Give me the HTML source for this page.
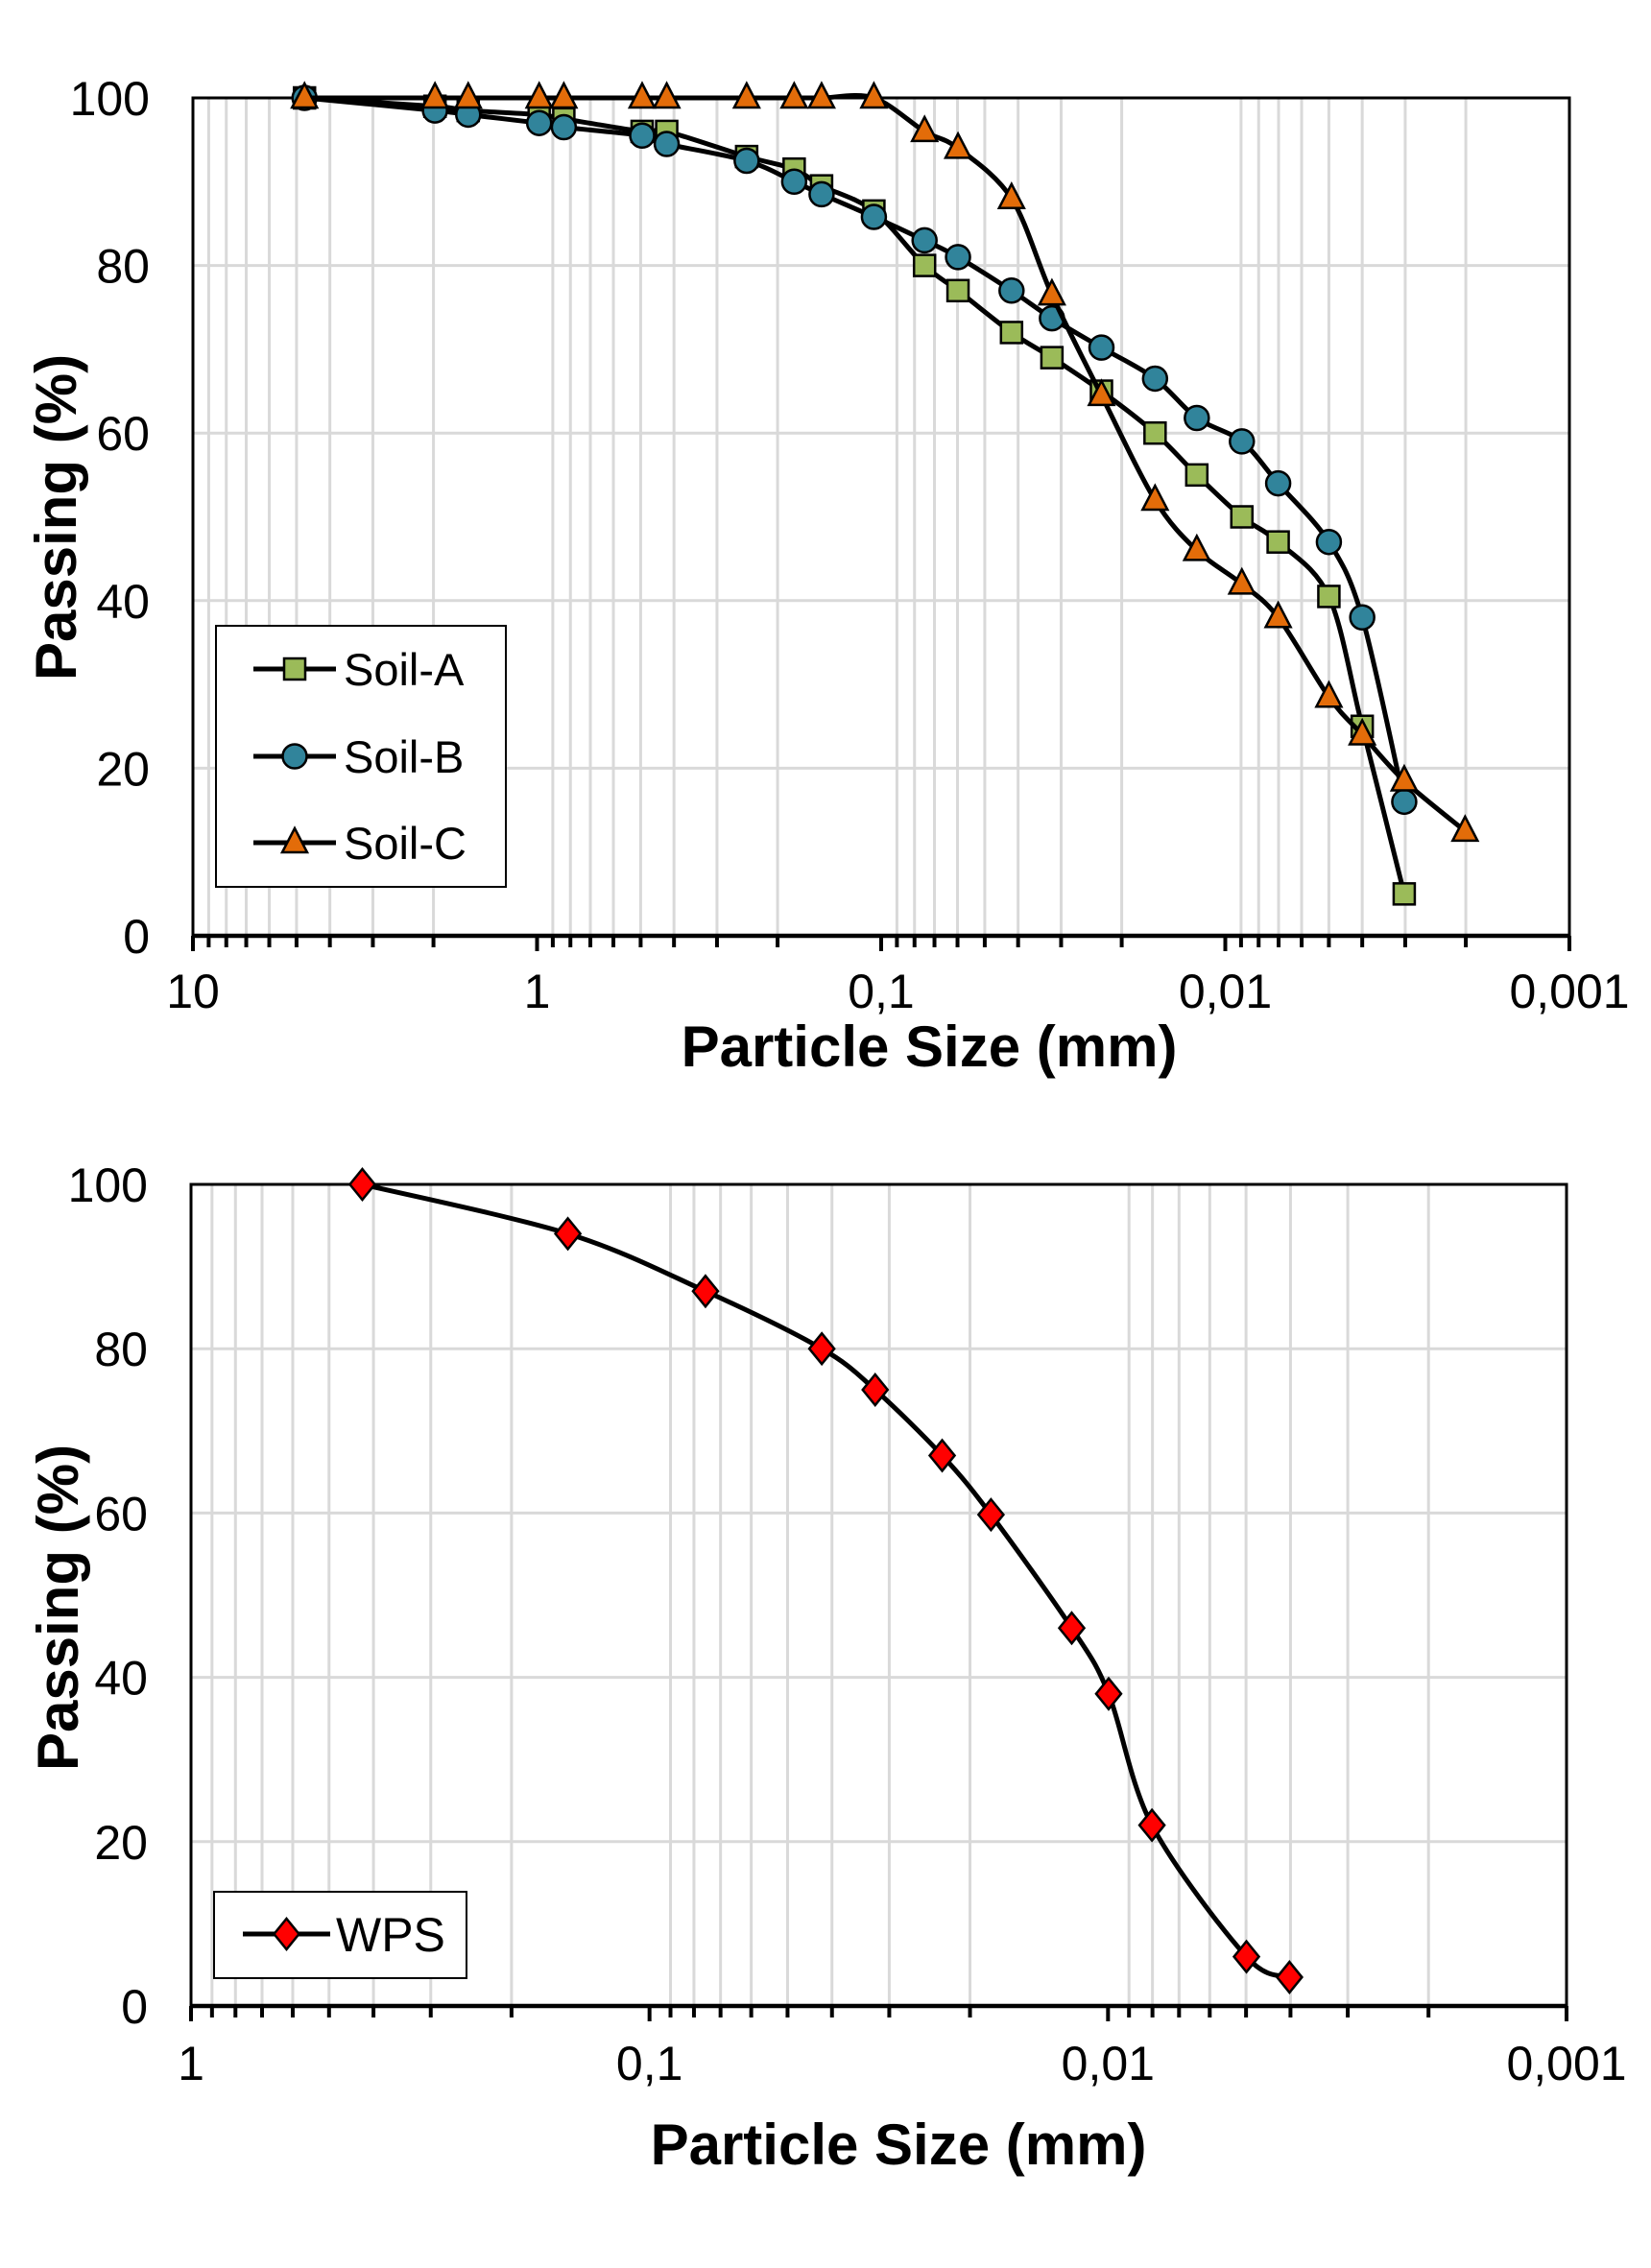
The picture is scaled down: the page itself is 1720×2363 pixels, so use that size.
<!DOCTYPE html>
<html><head><meta charset="utf-8"><style>
html,body{margin:0;padding:0;background:#fff;}
svg{display:block;font-family:"Liberation Sans",sans-serif;}
</style></head><body>
<svg id="chart" width="1720" height="2363" viewBox="0 0 1720 2363" xmlns="http://www.w3.org/2000/svg"></svg>
<script>
// Top chart data (diameters in mm, passing in %)
const sizesAB = [4.74,1.98,1.585,0.986,0.836,0.495,0.42,0.246,0.179,0.149,0.105,0.0748,0.0598,0.0418,0.0319,0.0229,0.016,0.0121,0.00895,0.00702,0.0050,0.0040,0.00302];
const soilA = [100,99,98.5,98,97.5,96,96,93,91.5,89.5,86.5,80,77,72,69,65,60,55,50,47,40.5,25,5];
const soilB = [100,98.5,98,97,96.5,95.5,94.5,92.5,90,88.5,85.8,83,81,77,73.7,70.2,66.5,61.8,59,54,47,38,16];
const sizesC = [4.74,1.98,1.585,0.986,0.836,0.495,0.42,0.246,0.179,0.149,0.105,0.0748,0.0598,0.0418,0.0319,0.0229,0.016,0.0121,0.00895,0.00702,0.0050,0.0040,0.00302,0.00201];
const soilC = [100,100,100,100,100,100,100,100,100,100,100,96,94,88,76.5,64.5,52,46,42,38,28.5,24,18.5,12.5];
// Bottom chart data
const sizesW = [0.423,0.1507,0.0755,0.0421,0.0322,0.0230,0.0180,0.0120,0.00997,0.00802,0.00499,0.00402];
const wps = [100,94,87,80,75,67,59.8,46,38,22,6,3.5];
const yTicks = [0,20,40,60,80,100];
const xTicksTop = ["10","1","0,1","0,01","0,001"];
const xTicksBot = ["1","0,1","0,01","0,001"];

const NS="http://www.w3.org/2000/svg";
const svgRoot=document.getElementById('chart');
function mk(tag,attrs,parent){const e=document.createElementNS(NS,tag);for(const k in attrs)e.setAttribute(k,attrs[k]);(parent||svgRoot).appendChild(e);return e;}

function makeAxes(cfg){
  const g=mk('g',{});
  
  
  const L=cfg.L,R=cfg.R,T=cfg.T,B=cfg.B,maxExp=cfg.maxExp,decades=cfg.decades;
  const xs=d=>L+(maxExp-Math.log10(d))/decades*(R-L);
  const ys=v=>B-v/100*(B-T);
  for(let e=maxExp;e>maxExp-decades;e--){
    for(let m=2;m<=9;m++){
      const x=xs(Math.pow(10,e-1)*m);
      const gl=mk('line',{x1:x,x2:x,y1:T,y2:B,stroke:'#d9d9d9','stroke-width':3},g);
      
      
    }
  }
  for(let e=maxExp;e>=maxExp-decades;e--){
    for(let m=1;m<=9;m++){
      if(e===maxExp-decades && m>1) break;
      const val=m===1?Math.pow(10,e):Math.pow(10,e-1)*m;
      const x=xs(val);
      const tk=mk('line',{x1:x,x2:x,y1:B,y2:B+(m===1?16:12),stroke:'#000','stroke-width':4},g);
      
      
    }
  }
  yTicks.forEach(v=>{
    if(v===0||v===100) return;
    const hl=mk('line',{x1:L,x2:R,y1:ys(v),y2:ys(v),stroke:'#d9d9d9','stroke-width':3},g);
    
    
  });
  const fr=mk('rect',{x:L,y:T,width:R-L,height:B-T,fill:'none',stroke:'#000','stroke-width':3},g);
  
  
  const ax=mk('line',{x1:L,x2:R,y1:B,y2:B,stroke:'#000','stroke-width':4.5},g);
  
  
  yTicks.forEach(v=>{
    const t=mk('text',{x:L-45,y:ys(v)+18,'text-anchor':'end','font-size':50,fill:'#000'},g);
    t.textContent=v;
    
    
  });
  cfg.xLabels.forEach((s,i)=>{
    const x=xs(Math.pow(10,maxExp-i));
    const t=mk('text',{x:x,y:cfg.xLabY,'text-anchor':'middle','font-size':50,fill:'#000'},g);
    t.textContent=s;
    
    
  });
  const xt=mk('text',{x:cfg.xTitleX,y:cfg.xTitleY,'text-anchor':'middle','font-size':60,'font-weight':'bold',fill:'#000'},g);
  xt.textContent='Particle Size (mm)';
  
  
  const yt=mk('text',{x:0,y:0,'text-anchor':'middle','font-size':60,'font-weight':'bold',fill:'#000',transform:'translate('+cfg.yTitleX+','+cfg.yTitleY+') rotate(-90)'},g);
  yt.textContent='Passing (%)';
  
  
  return {xs:xs,ys:ys,g:g};
}

function smoothPath(pts){
  let d='M'+pts[0][0]+','+pts[0][1];
  for(let i=0;i<pts.length-1;i++){
    const p0=pts[Math.max(0,i-1)],p1=pts[i],p2=pts[i+1],p3=pts[Math.min(pts.length-1,i+2)];
    const t=0.16;
    const c1=[p1[0]+(p2[0]-p0[0])*t,p1[1]+(p2[1]-p0[1])*t];
    const c2=[p2[0]-(p3[0]-p1[0])*t,p2[1]-(p3[1]-p1[1])*t];
    d+=' C'+c1[0]+','+c1[1]+' '+c2[0]+','+c2[1]+' '+p2[0]+','+p2[1];
  }
  return d;
}

function marker(type,x,y,parent){
  let e;
  if(type==='square') e=mk('rect',{x:x-11,y:y-11,width:22,height:22,fill:'#9bbb59',stroke:'#000','stroke-width':2.5},parent);
  else if(type==='circle') e=mk('circle',{cx:x,cy:y,r:12.5,fill:'#31849b',stroke:'#000','stroke-width':2.5},parent);
  else if(type==='triangle') e=mk('polygon',{points:x+','+(y-15)+' '+(x+13)+','+(y+10)+' '+(x-13)+','+(y+10),fill:'#e36c09',stroke:'#000','stroke-width':2.5},parent);
  else e=mk('polygon',{points:x+','+(y-16)+' '+(x+13)+','+y+' '+x+','+(y+16)+' '+(x-13)+','+y,fill:'#ff0000',stroke:'#000','stroke-width':2.5},parent);
  return e;
}

function series(ax,sizes,vals,type,name){
  const g=mk('g',{});
  
  
  const pts=sizes.map((d,i)=>[ax.xs(d),ax.ys(vals[i])]);
  const p=mk('path',{d:smoothPath(pts),fill:'none',stroke:'#000','stroke-width':5},g);
  
  
  pts.forEach(pt=>{
    const m=marker(type,pt[0],pt[1],g);
    
    
  });
}

function legend(x,y,w,h,entries,name,fs){
  const g=mk('g',{});
  
  
  mk('rect',{x:x,y:y,width:w,height:h,fill:'#fff',stroke:'#000','stroke-width':2},g);
  entries.forEach(en=>{
    const eg=mk('g',{},g);
    
    
    mk('line',{x1:en.x1,x2:en.x2,y1:en.y,y2:en.y,stroke:'#000','stroke-width':5},eg);
    marker(en.type,(en.x1+en.x2)/2,en.y,eg);
    const t=mk('text',{x:en.tx,y:en.y+fs*0.36,'font-size':fs,fill:'#000'},eg);
    t.textContent=en.label;
  });
}

const topAx=makeAxes({name:'top-chart',L:201,R:1635,T:102,B:975,maxExp:1,decades:4,xLabels:xTicksTop,xLabY:1050,xTitleX:968,xTitleY:1111,yTitleX:79,yTitleY:539});
series(topAx,sizesAB,soilA,'square','soil-a-series');
series(topAx,sizesAB,soilB,'circle','soil-b-series');
series(topAx,sizesC,soilC,'triangle','soil-c-series');
legend(225,652,302,272,[
  {x1:264,x2:350,y:697,type:'square',tx:358,label:'Soil-A'},
  {x1:264,x2:350,y:788,type:'circle',tx:358,label:'Soil-B'},
  {x1:264,x2:350,y:878,type:'triangle',tx:358,label:'Soil-C'}],'top-legend',47);

const botAx=makeAxes({name:'bottom-chart',L:199,R:1632,T:1234,B:2090,maxExp:0,decades:3,xLabels:xTicksBot,xLabY:2167,xTitleX:936,xTitleY:2255,yTitleX:81,yTitleY:1675});
series(botAx,sizesW,wps,'diamond','wps-series');
legend(223,1971,263,90,[{x1:253,x2:344,y:2015,type:'diamond',tx:350,label:'WPS'}],'bottom-legend',50);
</script>
</body></html>
